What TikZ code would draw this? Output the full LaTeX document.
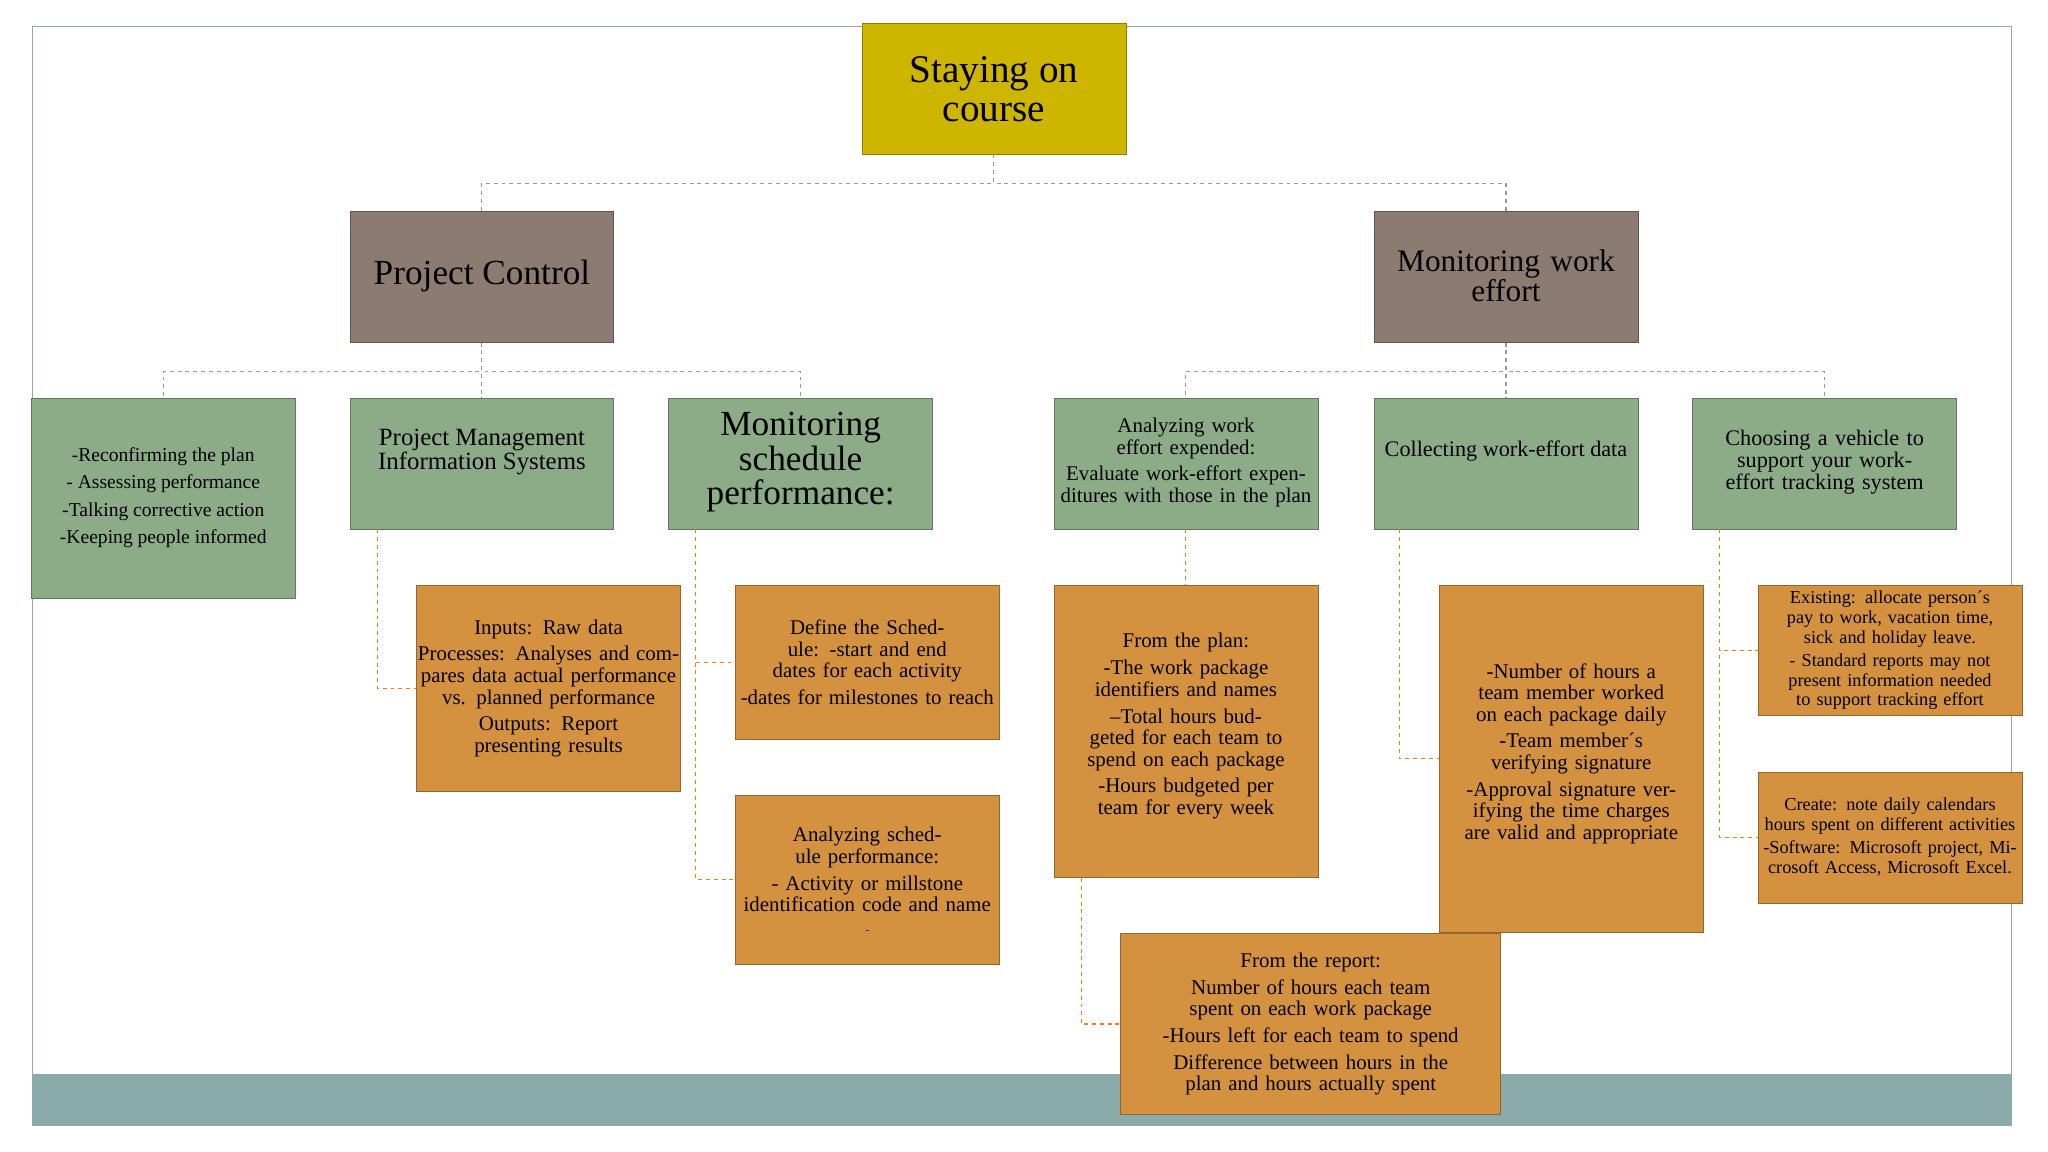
\documentclass[tikz,border=0pt]{standalone}
\usepackage{fontspec}
\setmainfont{Liberation Serif}
\begin{document}
\begin{tikzpicture}[x=1pt,y=-1pt,
  box/.style={draw=#1!70!black, line width=0.6pt, fill=#1, inner sep=0pt},
  txt/.style={align=center, inner sep=0pt, font=\fontsize{16}{16.5}\selectfont},
  gdash/.style={draw=gray!80, dashed, line width=0.8pt},
  odash/.style={draw=orange!70!brown, dashed, line width=0.8pt}]
\definecolor{gold}{HTML}{CDB500}
\definecolor{taupe}{HTML}{8B7B70}
\definecolor{sage}{HTML}{8BAC87}
\definecolor{ochre}{HTML}{D4913F}
\definecolor{teal}{HTML}{8AABA9}
\useasboundingbox (0,0) rectangle (1568,882);
\fill[white] (0,0) rectangle (1568,882);
\fill[teal] (25,822) rectangle (1540,862);
\draw[teal, line width=0.8pt] (25,20) rectangle (1540,862);
% boxes
\node[box=gold, minimum width=202pt, minimum height=100pt] (T) at (761,68) {};
\node[box=taupe, minimum width=202pt, minimum height=100pt] (PC) at (369,212) {};
\node[box=taupe, minimum width=202pt, minimum height=100pt] (MW) at (1153,212) {};
\node[box=sage, minimum width=202pt, minimum height=153pt] (A) at (125,381.5) {};
\node[box=sage, minimum width=202pt, minimum height=100pt] (B) at (369,355) {};
\node[box=sage, minimum width=202pt, minimum height=100pt] (C) at (613,355) {};
\node[box=sage, minimum width=202pt, minimum height=100pt] (D) at (908,355) {};
\node[box=sage, minimum width=202pt, minimum height=100pt] (E) at (1153,355) {};
\node[box=sage, minimum width=202pt, minimum height=100pt] (F) at (1397,355) {};
\node[box=ochre, minimum width=202pt, minimum height=158pt] (O1) at (420,527) {};
\node[box=ochre, minimum width=202pt, minimum height=118pt] (O2) at (664,507) {};
\node[box=ochre, minimum width=202pt, minimum height=129pt] (O3) at (664,673.5) {};
\node[box=ochre, minimum width=202pt, minimum height=224pt] (O4) at (908,560) {};
\node[box=ochre, minimum width=202pt, minimum height=266pt] (O5) at (1203,581) {};
\node[box=ochre, minimum width=291pt, minimum height=138pt] (O6) at (1003.5,784) {};
\node[box=ochre, minimum width=202pt, minimum height=100pt] (O7) at (1447,498) {};
\node[box=ochre, minimum width=202pt, minimum height=101pt] (O8) at (1447,641.5) {};
% texts
\node[txt, font=\fontsize{30}{30}\selectfont] at (761,68) {Staying on\\course};
\node[txt, font=\fontsize{27}{27}\selectfont] at (369,211) {Project Control};
\node[txt, font=\fontsize{24}{23}\selectfont, text width=195pt] at (1153,211) {Monitoring work\\effort};
\node[txt, font=\fontsize{15}{21}\selectfont] at (125,381) {-Reconfirming the plan\\- Assessing performance\\-Talking corrective action\\-Keeping people informed};
\node[txt, font=\fontsize{19}{18}\selectfont] at (369,346) {Project Management\\Information Systems};
\node[txt, font=\fontsize{27}{26.5}\selectfont] at (613,354) {Monitoring\\schedule\\performance:};
\node[txt, text width=196pt] at (908,354) {Analyzing work effort expended:\\[4pt] Evaluate work-effort expenditures with those in the plan};
\node[txt, font=\fontsize{17}{17}\selectfont] at (1153,345) {Collecting work-effort data};
\node[txt, font=\fontsize{17}{17}\selectfont, text width=190pt] at (1397,354) {Choosing a vehicle to support your work-effort tracking system};
\node[txt, text width=200pt] at (420,527) {Inputs: Raw data\\[4pt] Processes: Analyses and compares data actual performance vs. planned performance\\[4pt] Outputs: Report presenting results};
\node[txt, text width=198pt] at (664,507) {Define the Schedule: -start and end dates for each activity\\[4pt] -dates for milestones to reach};
\node[txt, text width=196pt] at (664,674) {Analyzing schedule performance:\\[4pt] - Activity or millstone identification code and name\\[0pt]{\fontsize{8}{9}\selectfont -}};
\node[txt, text width=198pt] at (908,556) {From the plan:\\[4pt] -The work package identifiers and names\\[4pt] --Total hours budgeted for each team to spend on each package\\[4pt] -Hours budgeted per team for every week};
\node[txt, text width=198pt] at (1203,577) {-Number of hours a team member worked on each package daily\\[4pt] -Team member´s verifying signature\\[4pt] -Approval signature verifying the time charges are valid and appropriate};
\node[txt, text width=280pt] at (1003.5,784) {From the report:\\[4pt] Number of hours each team spent on each work package\\[4pt] -Hours left for each team to spend\\[4pt] Difference between hours in the plan and hours actually spent};
\node[txt, font=\fontsize{14}{15}\selectfont, text width=200pt] at (1447,498) {Existing: allocate person´s pay to work, vacation time, sick and holiday leave.\\[3pt] - Standard reports may not present information needed to support tracking effort};
\node[txt, font=\fontsize{14}{15}\selectfont, text width=200pt] at (1447,641) {Create: note daily calendars hours spent on different activities\\[3pt] -Software: Microsoft project, Microsoft Access, Microsoft Excel.};
% gray connectors
\draw[gdash] (T.south) -- ++(0,22) -| (PC.north);
\draw[gdash] (T.south) -- ++(0,22) -| (MW.north);
\draw[gdash] (PC.south) -- (B.north);
\draw[gdash] (PC.south) -- ++(0,22) -| (A.north);
\draw[gdash] (PC.south) -- ++(0,22) -| (C.north);
\draw[gdash] (MW.south) -- (E.north);
\draw[gdash] (MW.south) -- ++(0,22) -| (D.north);
\draw[gdash] (MW.south) -- ++(0,22) -| (F.north);
% orange connectors
\draw[odash] ([xshift=21pt]B.south west) |- (O1.west);
\draw[odash] ([xshift=21pt]C.south west) |- (O2.west);
\draw[odash] ([xshift=21pt]C.south west) |- (O3.west);
\draw[odash] (D.south) -- (O4.north);
\draw[odash] ([xshift=21pt]O4.south west) |- (O6.west);
\draw[odash] ([xshift=20pt]E.south west) |- (O5.west);
\draw[odash] ([xshift=21pt]F.south west) |- (O7.west);
\draw[odash] ([xshift=21pt]F.south west) |- (O8.west);
\end{tikzpicture}
\end{document}
